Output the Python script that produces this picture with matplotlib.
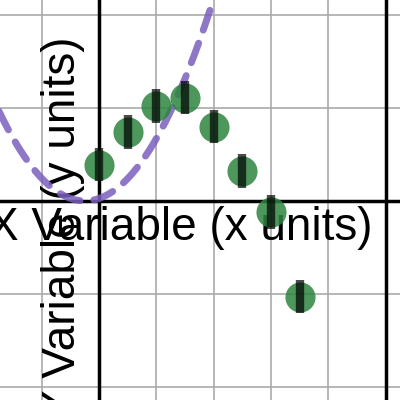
import numpy as np
import matplotlib.pyplot as plt

plt.rcParams['font.family'] = ['Liberation Sans', 'DejaVu Sans']

x_vals = [0.0, 0.5, 1.0, 1.5, 2.0, 2.5, 3.0, 3.5]
y_vals = [0.39, 0.74, 1.02, 1.11, 0.80, 0.32, -0.12, -1.03]
y_err = [0.18, 0.18, 0.18, 0.18, 0.18, 0.18, 0.18, 0.18]
# fitted parabola y = a*(x - h)^2 + k
fit_a, fit_h, fit_k = 0.43, -0.25, 0.0

fig = plt.figure(figsize=(4, 4), dpi=100)
ax = fig.add_axes([0, 0, 1, 1])
ax.set_xlim(-1.73, 5.25)
ax.set_ylim(-2.14, 2.16)
for gx in range(-1, 6):
    ax.axvline(gx, color='#aaaaaa', lw=1.2, zorder=0)
for gy in range(-2, 3):
    ax.axhline(gy, color='#aaaaaa', lw=1.2, zorder=0)
ax.axvline(0, color='black', lw=2.5, zorder=1)
ax.axhline(0, color='black', lw=2.5, zorder=1)
ax.axvline(5, color='black', lw=2.5, zorder=1)
ax.set_xticks([])
ax.set_yticks([])
for s in ax.spines.values():
    s.set_visible(False)

ax.text(0.45, 0.43, 'X Variable (x units)', transform=ax.transAxes, fontsize=33,
        ha='center', va='center', zorder=2)
ax.text(0.158, 0.43, 'Y Variable (y units)', transform=ax.transAxes, fontsize=33,
        ha='center', va='center', rotation=90, zorder=2)

xc = np.linspace(-1.8, 2.5, 300)
ax.plot(xc, fit_a * (xc - fit_h) ** 2 + fit_k, color='#7b5fbf', alpha=0.85, lw=5,
        dashes=(3, 2), dash_capstyle='round', zorder=3)

ax.scatter(x_vals, y_vals, s=470, color='#2e8540', alpha=0.85, zorder=4, lw=0)
ax.errorbar(x_vals, y_vals, yerr=y_err, fmt='none', ecolor='black', alpha=0.7,
            elinewidth=6, capsize=0, zorder=5)

fig.savefig('out.png', dpi=100)
